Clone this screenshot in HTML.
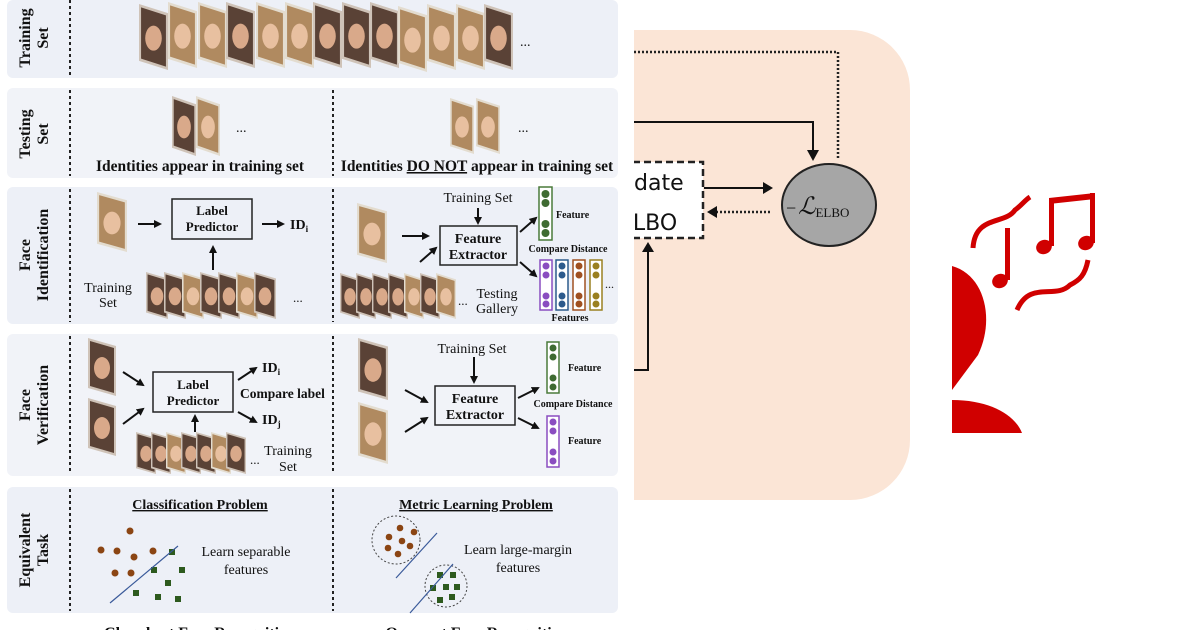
<!DOCTYPE html>
<html><head><meta charset="utf-8"><style>
html,body{margin:0;padding:0;background:#fff;width:1200px;height:630px;overflow:hidden}
svg{display:block}
text{font-family:"Liberation Serif",serif;fill:#111}
.b{font-weight:bold}
</style></head><body>
<svg width="1200" height="630" viewBox="0 0 1200 630" xmlns="http://www.w3.org/2000/svg">
<defs>
<marker id="ar" markerWidth="8" markerHeight="8" refX="6" refY="4" orient="auto" markerUnits="userSpaceOnUse"><path d="M0,0 L8,4 L0,8 z" fill="#111"/></marker>
<symbol id="f" viewBox="0 0 28 58" preserveAspectRatio="none">
<polygon points="0,0 28,8 28,58 0,50" fill="#cfc3b8"/>
<polygon points="2,3 26,10 26,55 2,48" fill="#5a4236"/>
<ellipse cx="14" cy="30" rx="8" ry="11" fill="#d9a98a"/>
</symbol>
<symbol id="g" viewBox="0 0 28 58" preserveAspectRatio="none">
<polygon points="0,0 28,8 28,58 0,50" fill="#e3dccf"/>
<polygon points="2,3 26,10 26,55 2,48" fill="#b08a60"/>
<ellipse cx="14" cy="30" rx="8" ry="11" fill="#e8c0a0"/>
</symbol>
<clipPath id="pc"><rect x="634" y="0" width="566" height="630"/></clipPath>
</defs>

<!-- left panel rows -->
<g fill="#edf0f7">
<rect x="7" y="0" width="611" height="78" rx="6"/>
<rect x="7" y="88" width="611" height="90" rx="6" fill="#f1f3f8"/>
<rect x="7" y="187" width="611" height="137" rx="6"/>
<rect x="7" y="334" width="611" height="142" rx="6" fill="#f1f3f8"/>
<rect x="7" y="487" width="611" height="126" rx="6"/>
</g>
<g stroke="#222" stroke-width="2" stroke-dasharray="3,3">
<line x1="70" y1="0" x2="70" y2="78"/>
<line x1="70" y1="90" x2="70" y2="176"/>
<line x1="70" y1="189" x2="70" y2="322"/>
<line x1="70" y1="336" x2="70" y2="474"/>
<line x1="70" y1="489" x2="70" y2="611"/>
<line x1="333" y1="90" x2="333" y2="176"/>
<line x1="333" y1="189" x2="333" y2="322"/>
<line x1="333" y1="336" x2="333" y2="474"/>
<line x1="333" y1="489" x2="333" y2="611"/>
</g>
<g class="b" font-size="16" text-anchor="middle">
<text class="b" transform="translate(30,38) rotate(-90)">Training</text>
<text class="b" transform="translate(48,38) rotate(-90)">Set</text>
<text class="b" transform="translate(30,134) rotate(-90)">Testing</text>
<text class="b" transform="translate(48,134) rotate(-90)">Set</text>
<text class="b" transform="translate(30,255) rotate(-90)">Face</text>
<text class="b" transform="translate(48,255) rotate(-90)">Identification</text>
<text class="b" transform="translate(30,405) rotate(-90)">Face</text>
<text class="b" transform="translate(48,405) rotate(-90)">Verification</text>
<text class="b" transform="translate(30,550) rotate(-90)">Equivalent</text>
<text class="b" transform="translate(48,550) rotate(-90)">Task</text>
</g>

<!-- row1 faces -->
<use href="#f" x="139" y="4" width="29" height="66"/>
<use href="#g" x="168" y="2" width="29" height="66"/>
<use href="#g" x="198" y="2" width="29" height="66"/>
<use href="#f" x="226" y="2" width="29" height="66"/>
<use href="#g" x="256" y="2" width="29" height="66"/>
<use href="#g" x="285" y="2" width="29" height="66"/>
<use href="#f" x="313" y="2" width="29" height="66"/>
<use href="#f" x="342" y="2" width="29" height="66"/>
<use href="#f" x="370" y="2" width="29" height="66"/>
<use href="#g" x="398" y="6" width="29" height="66"/>
<use href="#g" x="427" y="4" width="29" height="66"/>
<use href="#g" x="456" y="4" width="29" height="66"/>
<use href="#f" x="484" y="4" width="29" height="66"/>
<text x="520" y="46" font-size="14">...</text>

<!-- row2 -->
<use href="#f" x="172" y="96" width="24" height="60"/>
<use href="#g" x="196" y="96" width="24" height="60"/>
<text x="236" y="132" font-size="14">...</text>
<text class="b" x="200" y="171" font-size="15.5" text-anchor="middle">Identities appear in training set</text>
<use href="#g" x="450" y="98" width="24" height="56"/>
<use href="#g" x="476" y="98" width="24" height="56"/>
<text x="518" y="132" font-size="14">...</text>
<text class="b" x="477" y="171" font-size="15.5" text-anchor="middle">Identities <tspan text-decoration="underline">DO NOT</tspan> appear in training set</text>

<!-- row3 left -->
<use href="#g" x="97" y="192" width="30" height="60"/>
<g stroke="#111" stroke-width="2" marker-end="url(#ar)">
<line x1="138" y1="224" x2="160" y2="224"/>
<line x1="262" y1="224" x2="283" y2="224"/>
<line x1="213" y1="270" x2="213" y2="247"/>
<line x1="402" y1="236" x2="428" y2="236"/>
<line x1="420" y1="262" x2="436" y2="248"/>
<line x1="478" y1="208" x2="478" y2="223"/>
<line x1="520" y1="232" x2="536" y2="218"/>
<line x1="520" y1="262" x2="536" y2="276"/>
</g>
<rect x="172" y="199" width="80" height="40" fill="none" stroke="#222" stroke-width="1.5"/>
<text class="b" x="212" y="215" font-size="13" text-anchor="middle">Label</text>
<text class="b" x="212" y="231" font-size="13" text-anchor="middle">Predictor</text>
<text class="b" x="290" y="229" font-size="14">ID<tspan font-size="9" dy="3">i</tspan></text>
<text x="108" y="292" font-size="14" text-anchor="middle">Training</text>
<text x="108" y="307" font-size="14" text-anchor="middle">Set</text>
<use href="#f" x="146" y="272" width="22" height="47"/>
<use href="#f" x="164" y="272" width="22" height="47"/>
<use href="#g" x="182" y="272" width="22" height="47"/>
<use href="#f" x="200" y="272" width="22" height="47"/>
<use href="#f" x="218" y="272" width="22" height="47"/>
<use href="#g" x="236" y="272" width="22" height="47"/>
<use href="#f" x="254" y="272" width="22" height="47"/>
<text x="293" y="302" font-size="13">...</text>

<!-- row3 right -->
<use href="#g" x="357" y="203" width="30" height="60"/>
<use href="#f" x="340" y="273" width="20" height="46"/>
<use href="#f" x="356" y="273" width="20" height="46"/>
<use href="#f" x="372" y="273" width="20" height="46"/>
<use href="#f" x="388" y="273" width="20" height="46"/>
<use href="#g" x="404" y="273" width="20" height="46"/>
<use href="#f" x="420" y="273" width="20" height="46"/>
<use href="#g" x="436" y="273" width="20" height="46"/>
<text x="458" y="305" font-size="13">...</text>
<text x="497" y="298" font-size="14" text-anchor="middle">Testing</text>
<text x="497" y="313" font-size="14" text-anchor="middle">Gallery</text>
<text x="478" y="202" font-size="14" text-anchor="middle">Training Set</text>
<rect x="440" y="226" width="77" height="39" fill="none" stroke="#222" stroke-width="1.5"/>
<text class="b" x="478" y="243" font-size="14" text-anchor="middle">Feature</text>
<text class="b" x="478" y="259" font-size="14" text-anchor="middle">Extractor</text>
<rect x="539" y="187" width="13" height="53" fill="#fff" stroke="#4a7a3a" stroke-width="1.5"/>
<g fill="#3f6b32"><circle cx="545.5" cy="194" r="4"/><circle cx="545.5" cy="203" r="4"/><circle cx="545.5" cy="224" r="4"/><circle cx="545.5" cy="233" r="4"/></g>
<text class="b" x="556" y="218" font-size="10">Feature</text>
<text class="b" x="568" y="252" font-size="10" text-anchor="middle">Compare Distance</text>
<rect x="540" y="260" width="12" height="50" fill="#fff" stroke="#8a4dc0" stroke-width="1.5"/>
<rect x="556" y="260" width="12" height="50" fill="#fff" stroke="#2c5a8c" stroke-width="1.5"/>
<rect x="573" y="260" width="12" height="50" fill="#fff" stroke="#a05020" stroke-width="1.5"/>
<rect x="590" y="260" width="12" height="50" fill="#fff" stroke="#9a8020" stroke-width="1.5"/>
<g fill="#8a4dc0"><circle cx="546" cy="266" r="3.5"/><circle cx="546" cy="275" r="3.5"/><circle cx="546" cy="296" r="3.5"/><circle cx="546" cy="304" r="3.5"/></g>
<g fill="#2c5a8c"><circle cx="562" cy="266" r="3.5"/><circle cx="562" cy="275" r="3.5"/><circle cx="562" cy="296" r="3.5"/><circle cx="562" cy="304" r="3.5"/></g>
<g fill="#a05020"><circle cx="579" cy="266" r="3.5"/><circle cx="579" cy="275" r="3.5"/><circle cx="579" cy="296" r="3.5"/><circle cx="579" cy="304" r="3.5"/></g>
<g fill="#9a8020"><circle cx="596" cy="266" r="3.5"/><circle cx="596" cy="275" r="3.5"/><circle cx="596" cy="296" r="3.5"/><circle cx="596" cy="304" r="3.5"/></g>
<text x="605" y="288" font-size="12">...</text>
<text class="b" x="570" y="321" font-size="10" text-anchor="middle">Features</text>

<!-- row4 left -->
<use href="#f" x="88" y="338" width="28" height="58"/>
<use href="#f" x="88" y="398" width="28" height="58"/>
<g stroke="#111" stroke-width="2" marker-end="url(#ar)">
<line x1="123" y1="372" x2="143" y2="385"/>
<line x1="123" y1="424" x2="143" y2="409"/>
<line x1="238" y1="380" x2="256" y2="368"/>
<line x1="238" y1="412" x2="256" y2="422"/>
<line x1="195" y1="432" x2="195" y2="416"/>
<line x1="405" y1="390" x2="427" y2="402"/>
<line x1="405" y1="432" x2="427" y2="418"/>
<line x1="474" y1="357" x2="474" y2="382"/>
<line x1="518" y1="398" x2="538" y2="388"/>
<line x1="518" y1="418" x2="538" y2="428"/>
</g>
<rect x="153" y="372" width="80" height="40" fill="none" stroke="#222" stroke-width="1.5"/>
<text class="b" x="193" y="389" font-size="13" text-anchor="middle">Label</text>
<text class="b" x="193" y="405" font-size="13" text-anchor="middle">Predictor</text>
<text class="b" x="262" y="372" font-size="14">ID<tspan font-size="9" dy="3">i</tspan></text>
<text class="b" x="240" y="398" font-size="13.5">Compare label</text>
<text class="b" x="262" y="424" font-size="14">ID<tspan font-size="9" dy="3">j</tspan></text>
<use href="#f" x="136" y="432" width="20" height="42"/>
<use href="#f" x="151" y="432" width="20" height="42"/>
<use href="#g" x="166" y="432" width="20" height="42"/>
<use href="#f" x="181" y="432" width="20" height="42"/>
<use href="#f" x="196" y="432" width="20" height="42"/>
<use href="#g" x="211" y="432" width="20" height="42"/>
<use href="#f" x="226" y="432" width="20" height="42"/>
<text x="250" y="464" font-size="13">...</text>
<text x="288" y="455" font-size="14" text-anchor="middle">Training</text>
<text x="288" y="471" font-size="14" text-anchor="middle">Set</text>

<!-- row4 right -->
<use href="#f" x="358" y="338" width="30" height="62"/>
<use href="#g" x="358" y="402" width="30" height="62"/>
<text x="472" y="353" font-size="14" text-anchor="middle">Training Set</text>
<rect x="435" y="386" width="80" height="39" fill="none" stroke="#222" stroke-width="1.5"/>
<text class="b" x="475" y="403" font-size="14" text-anchor="middle">Feature</text>
<text class="b" x="475" y="419" font-size="14" text-anchor="middle">Extractor</text>
<rect x="547" y="342" width="12" height="51" fill="#fff" stroke="#4a7a3a" stroke-width="1.5"/>
<g fill="#3f6b32"><circle cx="553" cy="348" r="3.5"/><circle cx="553" cy="357" r="3.5"/><circle cx="553" cy="378" r="3.5"/><circle cx="553" cy="387" r="3.5"/></g>
<text class="b" x="568" y="371" font-size="10">Feature</text>
<text class="b" x="573" y="407" font-size="10" text-anchor="middle">Compare Distance</text>
<rect x="547" y="416" width="12" height="51" fill="#fff" stroke="#8a4dc0" stroke-width="1.5"/>
<g fill="#8a4dc0"><circle cx="553" cy="422" r="3.5"/><circle cx="553" cy="431" r="3.5"/><circle cx="553" cy="452" r="3.5"/><circle cx="553" cy="461" r="3.5"/></g>
<text class="b" x="568" y="444" font-size="10">Feature</text>

<!-- row5 -->
<text class="b" x="200" y="509" font-size="14" text-anchor="middle" text-decoration="underline">Classification Problem</text>
<g fill="#8b4513"><circle cx="130" cy="531" r="3.5"/><circle cx="101" cy="550" r="3.5"/><circle cx="117" cy="551" r="3.5"/><circle cx="134" cy="557" r="3.5"/><circle cx="153" cy="551" r="3.5"/><circle cx="115" cy="573" r="3.5"/><circle cx="131" cy="573" r="3.5"/></g>
<g fill="#2d5a1e"><rect x="169" y="549" width="6" height="6"/><rect x="151" y="567" width="6" height="6"/><rect x="179" y="567" width="6" height="6"/><rect x="165" y="580" width="6" height="6"/><rect x="133" y="590" width="6" height="6"/><rect x="155" y="594" width="6" height="6"/><rect x="175" y="596" width="6" height="6"/></g>
<line x1="110" y1="603" x2="178" y2="546" stroke="#3a5a9a" stroke-width="1.2"/>
<text x="246" y="556" font-size="14" text-anchor="middle">Learn separable</text>
<text x="246" y="574" font-size="14" text-anchor="middle">features</text>
<text class="b" x="476" y="509" font-size="14" text-anchor="middle" text-decoration="underline">Metric Learning Problem</text>
<circle cx="396" cy="540" r="24" fill="none" stroke="#444" stroke-dasharray="2,2"/>
<circle cx="446" cy="586" r="21" fill="none" stroke="#444" stroke-dasharray="2,2"/>
<g fill="#8b4513"><circle cx="400" cy="528" r="3.3"/><circle cx="414" cy="532" r="3.3"/><circle cx="389" cy="537" r="3.3"/><circle cx="402" cy="541" r="3.3"/><circle cx="410" cy="546" r="3.3"/><circle cx="388" cy="548" r="3.3"/><circle cx="398" cy="554" r="3.3"/></g>
<g fill="#2d5a1e"><rect x="437" y="572" width="6" height="6"/><rect x="450" y="572" width="6" height="6"/><rect x="430" y="585" width="6" height="6"/><rect x="443" y="584" width="6" height="6"/><rect x="454" y="584" width="6" height="6"/><rect x="437" y="597" width="6" height="6"/><rect x="449" y="594" width="6" height="6"/></g>
<line x1="396" y1="578" x2="437" y2="533" stroke="#3a5a9a" stroke-width="1.2"/>
<line x1="410" y1="613" x2="453" y2="564" stroke="#3a5a9a" stroke-width="1.2"/>
<text x="518" y="554" font-size="14" text-anchor="middle">Learn large-margin</text>
<text x="518" y="572" font-size="14" text-anchor="middle">features</text>
<text class="b" x="200" y="638" font-size="16" text-anchor="middle">Closed-set Face Recognition</text>
<text class="b" x="477" y="638" font-size="16" text-anchor="middle">Open-set Face Recognition</text>

<!-- middle peach panel -->
<g clip-path="url(#pc)">
<path d="M634,30 H850 A60,60 0 0 1 910,90 V440 A60,60 0 0 1 850,500 H634 Z" fill="#fbe5d6"/>
<polyline points="634,52 838,52 838,160" fill="none" stroke="#222" stroke-width="2.5" stroke-dasharray="2,2"/>
<polyline points="634,122 813,122 813,152" fill="none" stroke="#111" stroke-width="2"/>
<path d="M807,150 L813,161 L819,150 z" fill="#111"/>
<rect x="600" y="162" width="103" height="76" fill="#fff" stroke="#222" stroke-width="2.5" stroke-dasharray="7,4"/>
<text x="634" y="190" font-size="22" style="font-family:'DejaVu Sans','Liberation Sans',sans-serif">date</text>
<text x="619" y="230" font-size="22" style="font-family:'DejaVu Sans','Liberation Sans',sans-serif">ELBO</text>
<line x1="704" y1="188" x2="765" y2="188" stroke="#111" stroke-width="2"/>
<path d="M763,182 L773,188 L763,194 z" fill="#111"/>
<line x1="716" y1="212" x2="770" y2="212" stroke="#222" stroke-width="2.5" stroke-dasharray="2,2"/>
<path d="M717,206 L707,212 L717,218 z" fill="#111"/>
<polyline points="634,370 648,370 648,250" fill="none" stroke="#111" stroke-width="2"/>
<path d="M642,252 L648,242 L654,252 z" fill="#111"/>
<ellipse cx="829" cy="205" rx="47" ry="41" fill="#a6a6a6" stroke="#222" stroke-width="2"/>
<text x="786" y="214" font-size="18" fill="#333">−<tspan font-style="italic" font-size="24" dx="2">ℒ</tspan><tspan font-size="13" dy="3">ELBO</tspan></text>
</g>

<!-- red music icon -->
<g fill="#d00000">
<path d="M952,266 C985,275 995,320 978,355 L952,390 Z"/>
<path d="M952,400 C990,400 1015,415 1022,433 L952,433 Z"/>
<rect x="1005" y="228" width="5" height="52"/>
<ellipse cx="1000" cy="281" rx="8" ry="7" transform="rotate(-25 1000 281)"/>
<rect x="1049" y="198" width="5" height="48"/>
<ellipse cx="1044" cy="247" rx="8" ry="7" transform="rotate(-25 1044 247)"/>
<rect x="1090" y="193" width="5" height="50"/>
<ellipse cx="1086" cy="243" rx="8" ry="7" transform="rotate(-25 1086 243)"/>
<polygon points="1049,198 1095,193 1095,199 1049,204"/>
</g>
<g fill="none" stroke="#d00000" stroke-width="5">
<path d="M973,248 C975,215 1005,225 1015,210 C1022,205 1025,200 1030,197"/>
<path d="M1017,310 C1030,280 1055,300 1070,285 C1080,280 1085,275 1088,260"/>
</g>
</svg>
</body></html>
